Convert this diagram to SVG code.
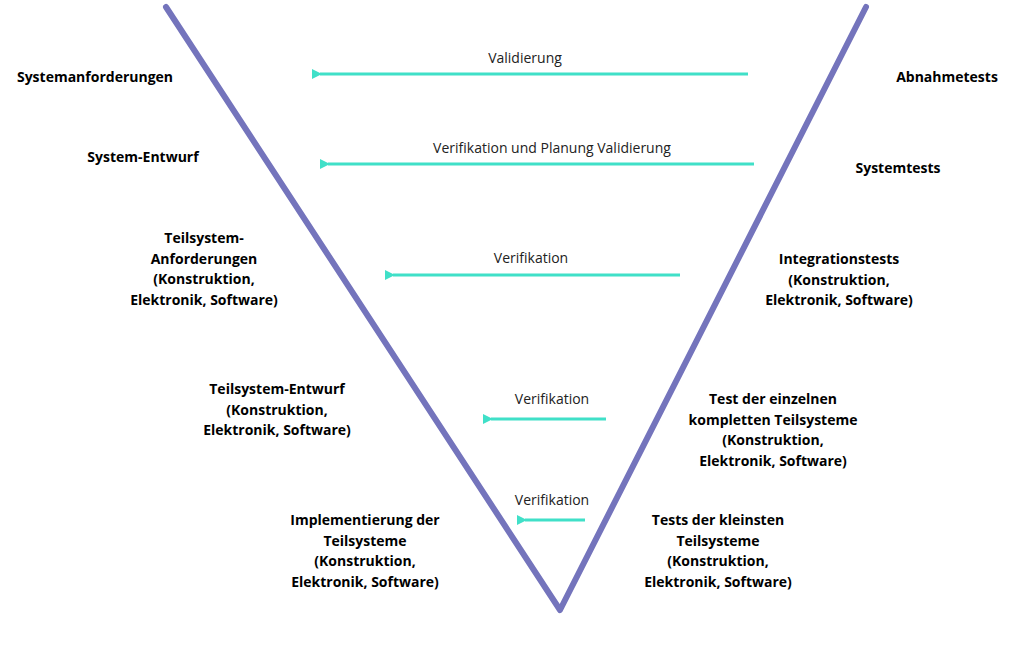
<svg xmlns="http://www.w3.org/2000/svg" width="1024" height="672" viewBox="0 0 1024 672">
<defs>
<marker id="ah" markerWidth="10" markerHeight="10" refX="2" refY="5" orient="auto" markerUnits="userSpaceOnUse"><path d="M10,0 L0,5 L10,10 Z" fill="#40e0c8"/></marker>
<style>
.n{font-family:"Open Sans","Liberation Sans",sans-serif;font-size:14px;font-weight:bold;fill:#000;text-anchor:middle}
.l{font-family:"Open Sans","Liberation Sans",sans-serif;font-size:14px;fill:#222;text-anchor:middle}
.a{stroke:#40e0c8;stroke-width:3;fill:none;marker-end:url(#ah)}
</style>
</defs>
<rect width="1024" height="672" fill="#fff"/>
<g id="v"><polyline points="166,7 560,610 866,7" fill="none" stroke="#7474bc" stroke-width="6" stroke-linecap="round" stroke-linejoin="round"/></g>
<g id="connectors">
<line class="a" x1="748" y1="74" x2="320" y2="74"/>
<line class="a" x1="754" y1="164" x2="328" y2="164"/>
<line class="a" x1="680" y1="275" x2="393" y2="275"/>
<line class="a" x1="606" y1="419" x2="491" y2="419"/>
<line class="a" x1="585" y1="520" x2="525" y2="520"/>
<text class="l" x="525" y="63">Validierung</text>
<text class="l" x="552" y="153">Verifikation und Planung Validierung</text>
<text class="l" x="531" y="263">Verifikation</text>
<text class="l" x="552" y="404">Verifikation</text>
<text class="l" x="552" y="505">Verifikation</text>
</g>
<g id="n1"><text class="n" x="95" y="82">Systemanforderungen</text></g>
<g id="n2"><text class="n" x="143" y="162">System-Entwurf</text></g>
<g id="n3"><text class="n" x="204" y="243">Teilsystem-<tspan x="204" dy="20.5">Anforderungen</tspan><tspan x="204" dy="20.5">(Konstruktion,</tspan><tspan x="204" dy="20.5">Elektronik, Software)</tspan></text></g>
<g id="n4"><text class="n" x="277" y="394">Teilsystem-Entwurf<tspan x="277" dy="20.5">(Konstruktion,</tspan><tspan x="277" dy="20.5">Elektronik, Software)</tspan></text></g>
<g id="n5"><text class="n" x="365" y="525">Implementierung der<tspan x="365" dy="20.5">Teilsysteme</tspan><tspan x="365" dy="20.5">(Konstruktion,</tspan><tspan x="365" dy="20.5">Elektronik, Software)</tspan></text></g>
<g id="n6"><text class="n" x="947" y="82">Abnahmetests</text></g>
<g id="n7"><text class="n" x="898" y="173">Systemtests</text></g>
<g id="n8"><text class="n" x="839" y="264">Integrationstests<tspan x="839" dy="20.5">(Konstruktion,</tspan><tspan x="839" dy="20.5">Elektronik, Software)</tspan></text></g>
<g id="n9"><text class="n" x="773" y="404">Test der einzelnen<tspan x="773" dy="20.5">kompletten Teilsysteme</tspan><tspan x="773" dy="20.5">(Konstruktion,</tspan><tspan x="773" dy="20.5">Elektronik, Software)</tspan></text></g>
<g id="n10"><text class="n" x="718" y="525">Tests der kleinsten<tspan x="718" dy="20.5">Teilsysteme</tspan><tspan x="718" dy="20.5">(Konstruktion,</tspan><tspan x="718" dy="20.5">Elektronik, Software)</tspan></text></g>
</svg>
